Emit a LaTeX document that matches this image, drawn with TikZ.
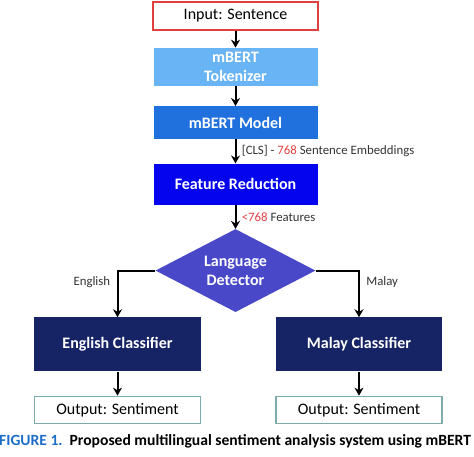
\documentclass[tikz,border=0pt]{standalone}
\usepackage{fontspec}
\setmainfont{Carlito}
\usepackage{xcolor}
\usetikzlibrary{shapes.geometric, arrows.meta, positioning}
\definecolor{cRed}{RGB}{226,64,64}
\definecolor{cSky}{RGB}{104,180,244}
\definecolor{cMid}{RGB}{32,112,222}
\definecolor{cBlue}{RGB}{4,4,238}
\definecolor{cSlate}{RGB}{72,72,200}
\definecolor{cNavy}{RGB}{22,36,102}
\definecolor{cTeal}{RGB}{124,172,172}
\definecolor{cCap}{RGB}{30,110,200}
\tikzset{
	iobox/.style   ={rectangle, minimum width=165pt, minimum height=28pt, align=center, fill=white, line width=1.3pt, font=\fontsize{16}{18}\selectfont},
	blk/.style     ={rectangle, minimum width=164pt, align=center, text=white, font=\bfseries\fontsize{16}{19}\selectfont},
	detect/.style  ={diamond, aspect=1.93, minimum width=160pt, minimum height=83pt, inner sep=0pt, align=center, fill=cSlate, text=white, font=\bfseries\fontsize{16}{19}\selectfont},
	sig/.style     ={-{Stealth[length=8pt, width=9pt]}, line width=2pt},
	lbl/.style     ={font=\fontsize{12.8}{14}\selectfont, text=black!80},
}
\begin{document}
\begin{tikzpicture}[x=1pt, y=1pt]
	\useasboundingbox (0,0) rectangle (474,-456);
	\node[iobox, draw=cRed] (inp) at (235.5,-16) {Input: Sentence};
	\node[blk, below=17pt of inp, fill=cSky, minimum height=38pt] (tok) {mBERT\\ Tokenizer};
	\node[blk, below=20pt of tok, fill=cMid, minimum height=33pt] (mod) {mBERT Model};
	\node[blk, below=24pt of mod, fill=cBlue, minimum height=41pt] (red) {Feature Reduction};
	\node[detect, below=24pt of red] (det) {Language\\ Detector};
	\node[blk, below=5pt of det, xshift=-118pt, fill=cNavy, minimum width=167pt, minimum height=54pt] (eng) {English Classifier};
	\node[blk, below=5pt of det, xshift=123.5pt, fill=cNavy, minimum width=166pt, minimum height=54pt] (mal) {Malay Classifier};
	\node[iobox, draw=cTeal, below=24pt of eng, minimum width=166pt, minimum height=27pt] (oute) {Output: Sentiment};
	\node[iobox, draw=cTeal, below=24pt of mal, minimum width=166pt, minimum height=27pt] (outm) {Output: Sentiment};
	\draw[sig] (inp) -- (tok);
	\draw[sig] (tok) -- (mod);
	\draw[sig] (mod) -- node[lbl, right, xshift=2pt] {[CLS] - \textcolor{cRed}{768} Sentence Embeddings} (red);
	\draw[sig] (red) -- node[lbl, right, xshift=2pt] {\textcolor{cRed}{<768} Features} (det);
	\draw[sig] (det.west) -| node[lbl, left, pos=0.62, xshift=-3pt] {English} (eng.north);
	\draw[sig] (det.east) -| node[lbl, right, pos=0.62, xshift=3pt] {Malay} (mal.north);
	\draw[sig] (eng) -- (oute);
	\draw[sig] (mal) -- (outm);
	% caption
	\node[anchor=west, inner sep=0pt, font=\bfseries\fontsize{15.6}{17}\selectfont] (cap) at (-1,-441) {\textcolor{cCap}{FIGURE 1.}\ \ Proposed multilingual sentiment analysis system using mBERT};
\end{tikzpicture}
\end{document}
